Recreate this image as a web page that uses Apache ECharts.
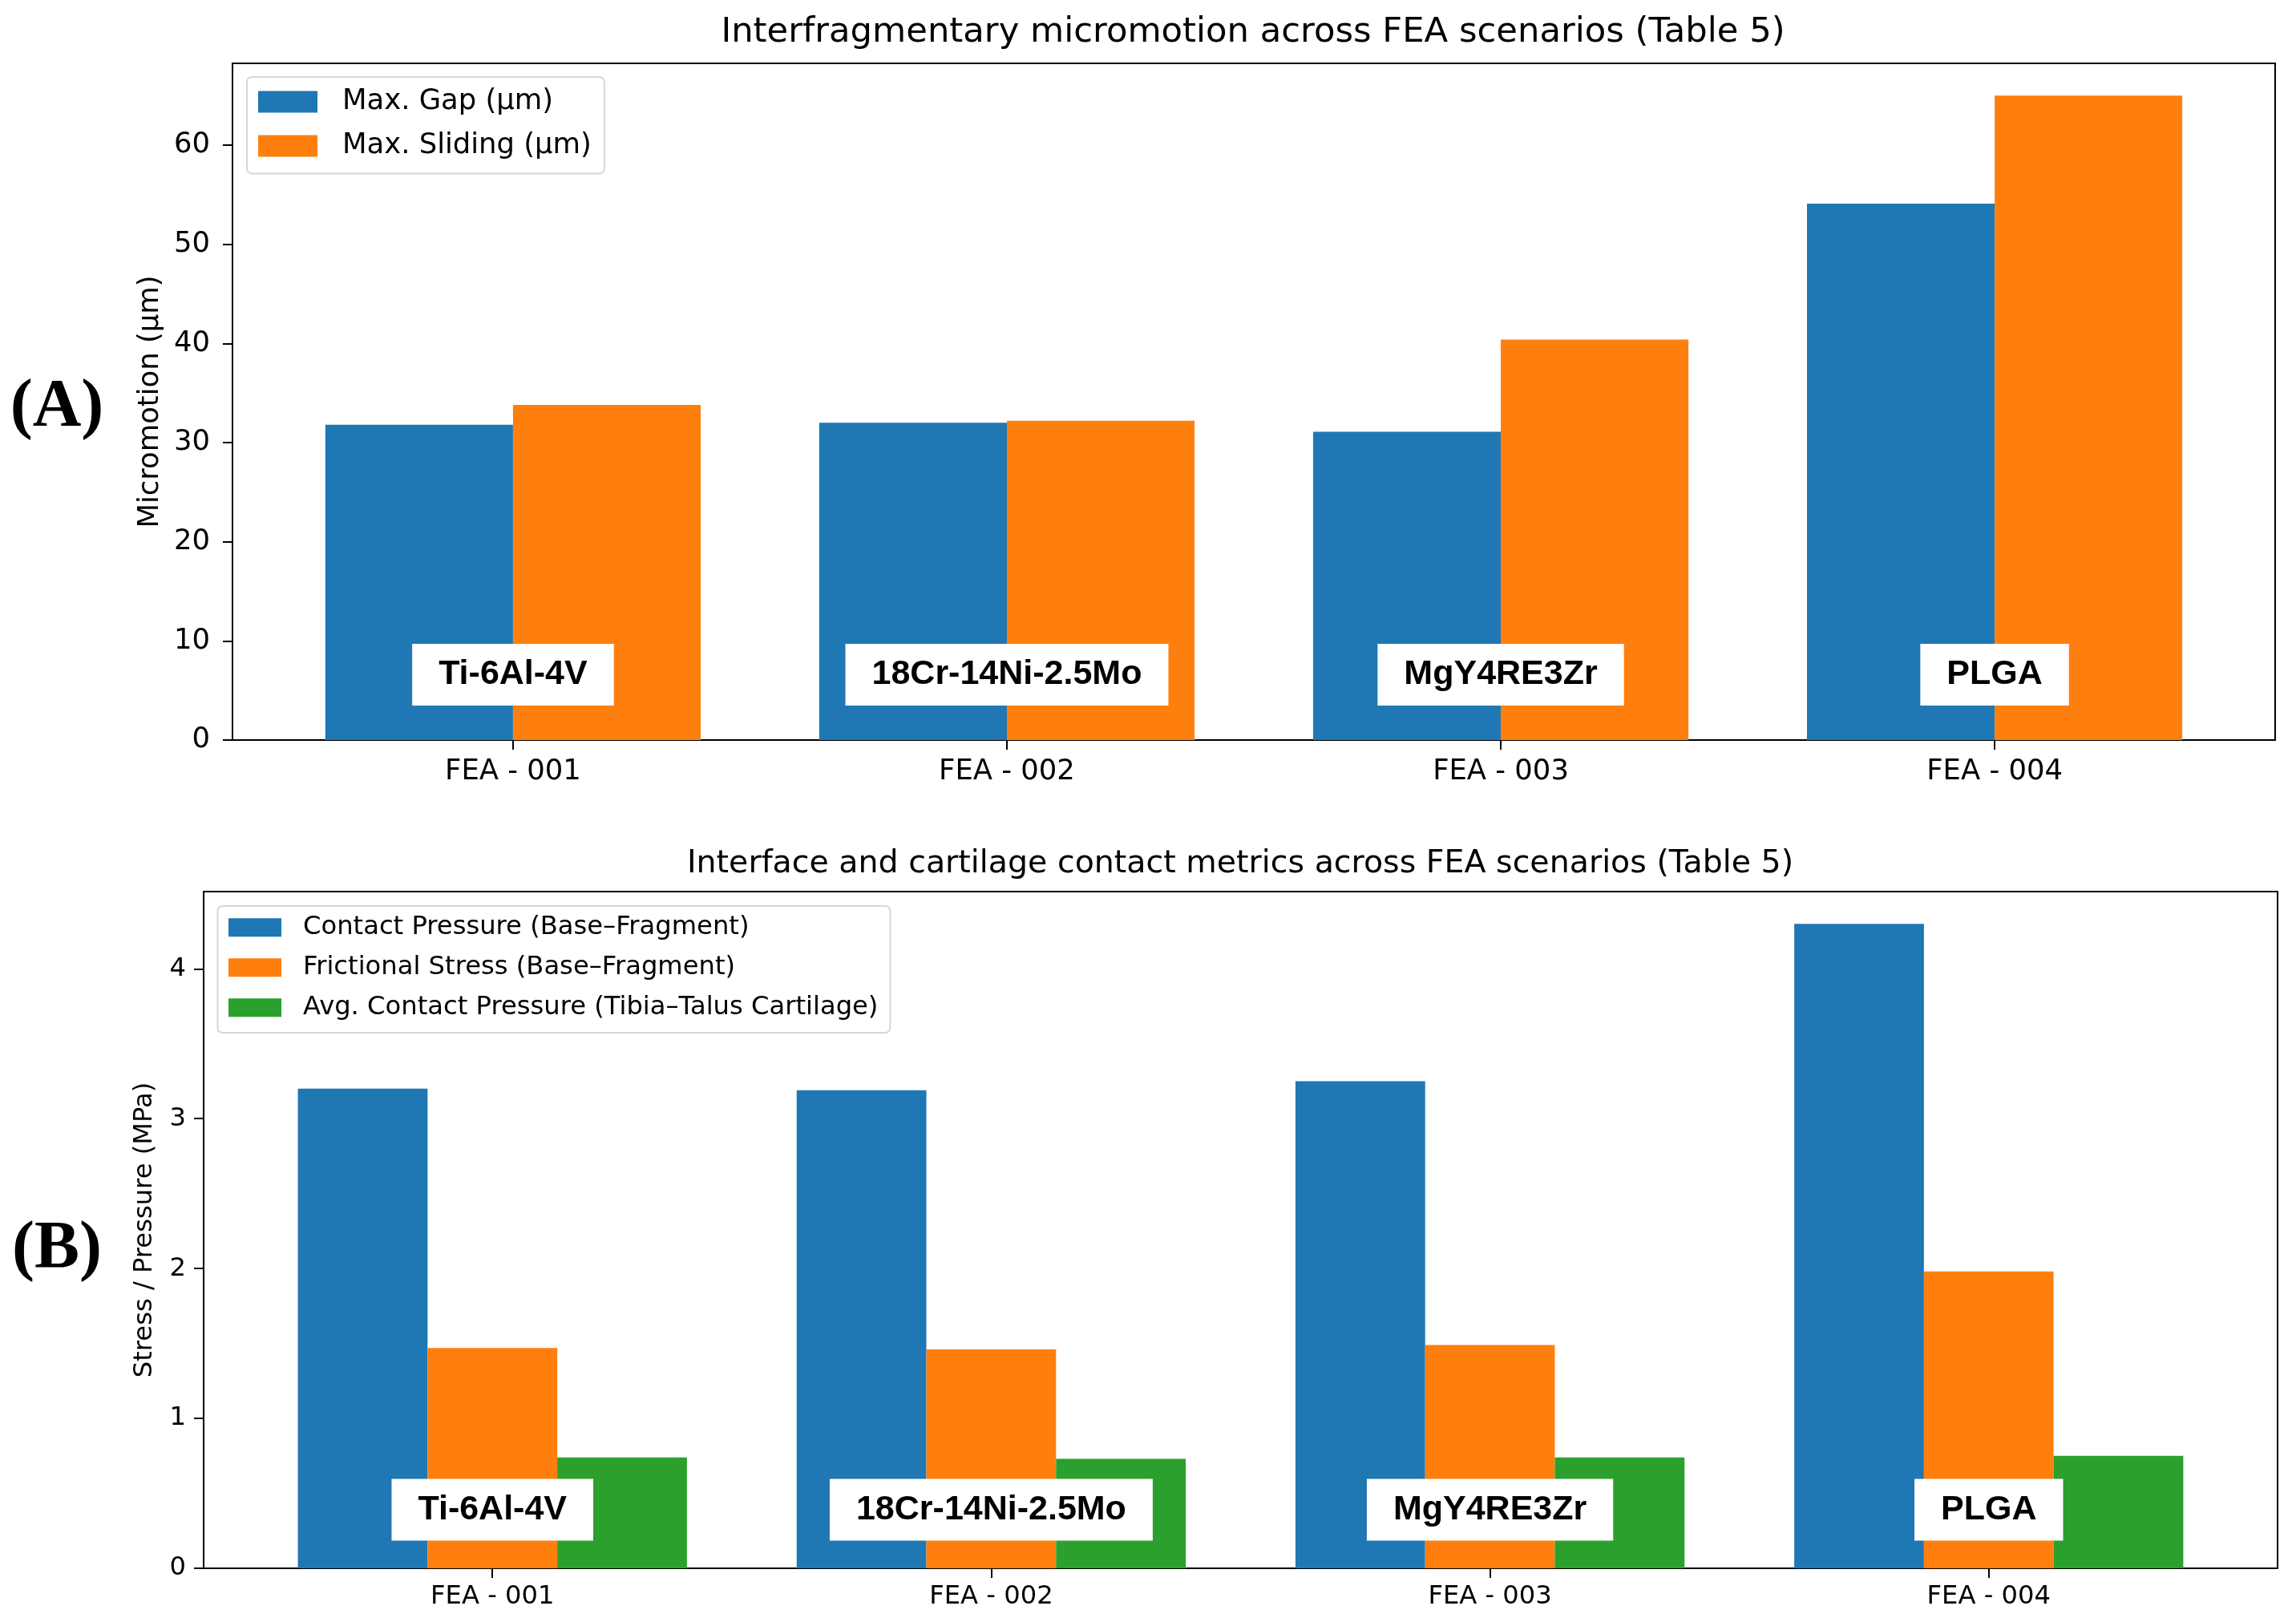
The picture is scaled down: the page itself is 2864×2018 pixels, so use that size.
<!DOCTYPE html>
<html><head><meta charset="utf-8">
<script src="https://cdn.jsdelivr.net/npm/echarts@6/dist/echarts.min.js"></script>
<style>html,body{margin:0;padding:0;background:#fff}#c{width:2864px;height:2018px}</style>
</head><body><div id="c"></div>
<script>
// ---------- data ----------
const SCENARIOS = ['FEA - 001', 'FEA - 002', 'FEA - 003', 'FEA - 004'];
const MATERIALS = ['Ti-6Al-4V', '18Cr-14Ni-2.5Mo', 'MgY4RE3Zr', 'PLGA'];
const MAX_GAP = [31.8, 32.0, 31.1, 54.1];
const MAX_SLIDING = [33.8, 32.2, 40.4, 65.0];
const CONTACT_PRESSURE = [3.20, 3.19, 3.25, 4.30];
const FRICTIONAL_STRESS = [1.47, 1.46, 1.49, 1.98];
const CARTILAGE_PRESSURE = [0.74, 0.73, 0.74, 0.75];
const TICKS_A = [0, 10, 20, 30, 40, 50, 60];
const TICKS_B = [0, 1, 2, 3, 4];
const CAT_TICKS = [0, 1, 2, 3];

// ---------- styles ----------
const C_BLUE = '#1f77b4', C_ORANGE = '#ff7f0e', C_GREEN = '#2ca02c';
const SANS = 'DejaVu Sans';
const FS_A = 35.4, FS_B = 32.2, TITLE_A = 43.3, TITLE_B = 39.5;
const W_A = 0.38, W_B = 0.26;

function xRange(n, w) {
  const half = n * w / 2;
  const span = 3 + 2 * half;
  return [-half - 0.05 * span, 3 + half + 0.05 * span];
}
const XR_A = xRange(2, W_A), XR_B = xRange(3, W_B);
const YMAX_A = 1.05 * Math.max(...MAX_GAP, ...MAX_SLIDING);
const YMAX_B = 1.05 * Math.max(...CONTACT_PRESSURE, ...FRICTIONAL_STRESS, ...CARTILAGE_PRESSURE);

function barSeries(name, values, color, ax, offset, width) {
  return {
    type: 'custom', name: name, xAxisIndex: ax, yAxisIndex: ax,
    itemStyle: { color: color },
    data: values.map((v, i) => [i, v]),
    encode: { x: 0, y: 1 },
    renderItem: function (params, api) {
      const x = api.value(0), v = api.value(1);
      const tl = api.coord([x + offset - width / 2, v]);
      const br = api.coord([x + offset + width / 2, 0]);
      return { type: 'rect', shape: { x: tl[0], y: tl[1], width: br[0] - tl[0], height: br[1] - tl[1] },
               style: { fill: color } };
    }
  };
}
function labelSeries(ax, yPos) {
  return {
    type: 'custom', name: 'materials' + ax, xAxisIndex: ax, yAxisIndex: ax, z: 10, silent: true,
    data: MATERIALS.map((m, i) => [i, yPos]),
    encode: { x: 0, y: 1 },
    renderItem: function (params, api) {
      const p = api.coord([api.value(0), api.value(1)]);
      return { type: 'text', x: p[0], y: p[1], z2: 10,
        style: { text: MATERIALS[params.dataIndex], align: 'center', verticalAlign: 'middle',
                 font: 'bold 43px "Liberation Sans"', fill: '#000', backgroundColor: '#fff', padding: [17, 33] } };
    }
  };
}
function xAxisCfg(gi, range, fs, margin) {
  return {
    gridIndex: gi, type: 'value', min: range[0], max: range[1],
    splitLine: { show: false },
    axisLine: { show: true, onZero: false, lineStyle: { color: '#000', width: 2 } },
    axisTick: { show: true, customValues: CAT_TICKS, length: 12, lineStyle: { color: '#000', width: 2 } },
    axisLabel: { customValues: CAT_TICKS, formatter: v => SCENARIOS[Math.round(v)], margin: margin,
                 fontSize: fs, fontFamily: SANS, color: '#000' }
  };
}
function yAxisCfg(gi, max, ticks, fs, margin, name, gap) {
  return {
    gridIndex: gi, type: 'value', min: 0, max: max,
    splitLine: { show: false },
    axisLine: { show: true, onZero: false, lineStyle: { color: '#000', width: 2 } },
    axisTick: { show: true, customValues: ticks, length: 12, lineStyle: { color: '#000', width: 2 } },
    axisLabel: { customValues: ticks, margin: margin, fontSize: fs, fontFamily: SANS, color: '#000' },
    name: name, nameLocation: 'middle', nameGap: gap, nameRotate: 90,
    nameTextStyle: { fontSize: fs, fontFamily: SANS, color: '#000' }
  };
}

const chart = echarts.init(document.getElementById('c'), null, { renderer: 'canvas' });
chart.setOption({
  backgroundColor: '#fff',
  animation: false,
  title: [
    { text: 'Interfragmentary micromotion across FEA scenarios (Table 5)', left: 1563, top: 19.5, textAlign: 'center', padding: 0,
      textStyle: { fontFamily: SANS, fontSize: TITLE_A, fontWeight: 'normal', color: '#000' } },
    { text: 'Interface and cartilage contact metrics across FEA scenarios (Table 5)', left: 1547, top: 1058, textAlign: 'center', padding: 0,
      textStyle: { fontFamily: SANS, fontSize: TITLE_B, fontWeight: 'normal', color: '#000' } }
  ],
  graphic: [
    { type: 'text', x: 71, y: 509, style: { text: '(A)', font: 'bold 84px "Liberation Serif"', fill: '#000', align: 'center', verticalAlign: 'middle' } },
    { type: 'text', x: 71, y: 1559, style: { text: '(B)', font: 'bold 84px "Liberation Serif"', fill: '#000', align: 'center', verticalAlign: 'middle' } }
  ],
  grid: [
    { left: 290, top: 79, width: 2548, height: 844, show: true, borderColor: '#000', borderWidth: 2, backgroundColor: 'transparent', outerBoundsMode: 'none' },
    { left: 254, top: 1112, width: 2587, height: 844, show: true, borderColor: '#000', borderWidth: 2, backgroundColor: 'transparent', outerBoundsMode: 'none' }
  ],
  legend: [
    { data: ['Max. Gap (µm)', 'Max. Sliding (µm)'], orient: 'vertical', left: 308, top: 96,
      icon: 'rect', itemWidth: 74, itemHeight: 27, itemGap: 19.5,
      padding: [13.3, 16, 16.8, 14], backgroundColor: '#fff', borderColor: '#d6d6d6', borderWidth: 2, borderRadius: 6,
      textStyle: { fontFamily: SANS, fontSize: FS_A, color: '#000', lineHeight: FS_A, padding: [0, 0, 0, 26] } },
    { data: ['Contact Pressure (Base–Fragment)', 'Frictional Stress (Base–Fragment)', 'Avg. Contact Pressure (Tibia–Talus Cartilage)'],
      orient: 'vertical', left: 271.5, top: 1130,
      icon: 'rect', itemWidth: 66, itemHeight: 23, itemGap: 17.8,
      padding: [10.6, 15, 15.2, 13.5], backgroundColor: '#fff', borderColor: '#d6d6d6', borderWidth: 2, borderRadius: 6,
      textStyle: { fontFamily: SANS, fontSize: FS_B, color: '#000', lineHeight: FS_B, padding: [0, 0, 0, 22] } }
  ],
  xAxis: [xAxisCfg(0, XR_A, FS_A, 22), xAxisCfg(1, XR_B, FS_B, 20)],
  yAxis: [yAxisCfg(0, YMAX_A, TICKS_A, FS_A, 28, 'Micromotion (µm)', 85),
          yAxisCfg(1, YMAX_B, TICKS_B, FS_B, 22, 'Stress / Pressure (MPa)', 57)],
  series: [
    barSeries('Max. Gap (µm)', MAX_GAP, C_BLUE, 0, -W_A / 2, W_A),
    barSeries('Max. Sliding (µm)', MAX_SLIDING, C_ORANGE, 0, W_A / 2, W_A),
    labelSeries(0, 6.6),
    barSeries('Contact Pressure (Base–Fragment)', CONTACT_PRESSURE, C_BLUE, 1, -W_B, W_B),
    barSeries('Frictional Stress (Base–Fragment)', FRICTIONAL_STRESS, C_ORANGE, 1, 0, W_B),
    barSeries('Avg. Contact Pressure (Tibia–Talus Cartilage)', CARTILAGE_PRESSURE, C_GREEN, 1, W_B, W_B),
    labelSeries(1, 0.39)
  ]
});
</script>
</body></html>
